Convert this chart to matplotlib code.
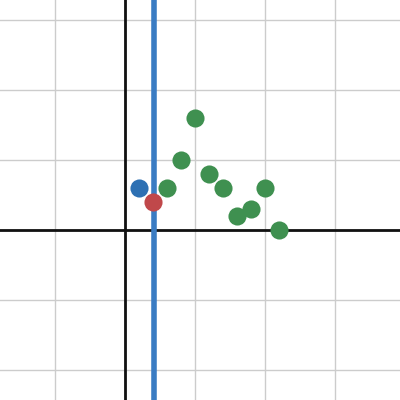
import matplotlib
matplotlib.use("Agg")
import matplotlib.pyplot as plt

green_x = [3, 4, 5, 6, 7, 8, 9, 10, 11]
green_y = [3, 5, 8, 4, 3, 1, 1.5, 3, 0]
blue_pt = (1, 3)
red_pt = (2, 2)
line_x = 2.07

fig = plt.figure(figsize=(4, 4), dpi=100)
ax = fig.add_axes([0, 0, 1, 1])
ax.set_xlim(-125/14, 275/14)
ax.set_ylim(-170/14, 230/14)
for v in range(-5, 20, 5):
    ax.axvline(v, color="#cccccc", lw=1, zorder=0)
for v in range(-10, 20, 5):
    ax.axhline(v, color="#cccccc", lw=1, zorder=0)
ax.axvline(0, color="#111111", lw=2, zorder=1)
ax.axhline(0, color="#111111", lw=2, zorder=1)
ax.axvline(line_x, color="#3a7cc3", lw=4, zorder=2)
ax.scatter(green_x, green_y, s=170, color="#3f9050", zorder=3, linewidths=0)
ax.scatter([blue_pt[0]], [blue_pt[1]], s=170, color="#2d70b3", zorder=3, linewidths=0)
ax.scatter([red_pt[0]], [red_pt[1]], s=170, color="#c0484a", zorder=4, linewidths=0)
ax.set_xticks([]); ax.set_yticks([])
for s in ax.spines.values():
    s.set_visible(False)
fig.savefig("out.png", dpi=100)
